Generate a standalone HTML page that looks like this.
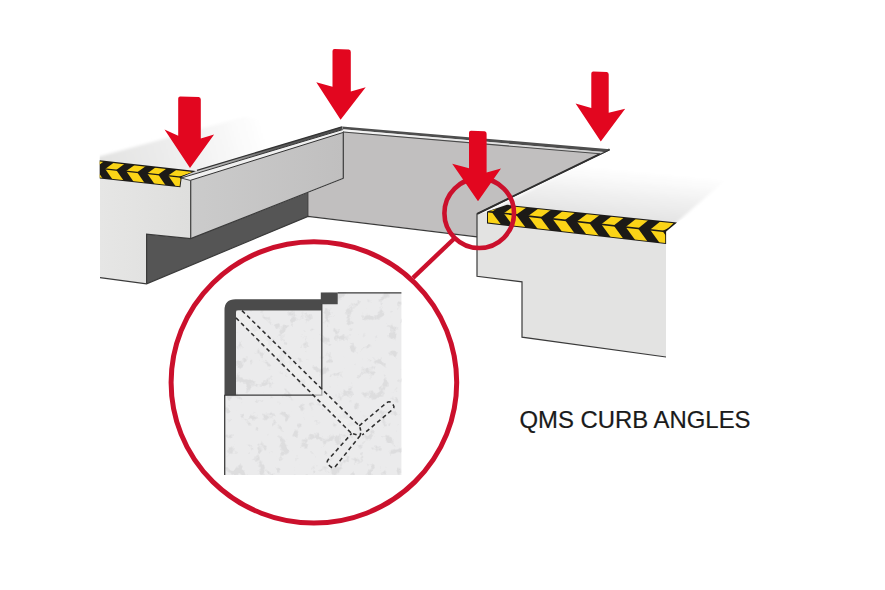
<!DOCTYPE html>
<html><head><meta charset="utf-8">
<style>
html,body{margin:0;padding:0;background:#fff;}
body{width:885px;height:590px;overflow:hidden;position:relative;font-family:"Liberation Sans",sans-serif;}
svg{position:absolute;left:0;top:0;display:block;}
.label{position:absolute;left:519.5px;top:406.5px;font-size:23.9px;line-height:26px;color:#1a1a1a;white-space:nowrap;-webkit-text-stroke:0.2px #1a1a1a;letter-spacing:0px;}
</style></head><body>
<svg width="885" height="590" viewBox="0 0 885 590">
<defs>
  <linearGradient id="gTopL" gradientUnits="userSpaceOnUse" x1="105" y1="165" x2="262" y2="118">
    <stop offset="0" stop-color="#e3e3e2"/><stop offset="0.35" stop-color="#ebebeb"/><stop offset="0.7" stop-color="#f6f6f6"/><stop offset="1" stop-color="#ffffff"/>
  </linearGradient>
  <linearGradient id="gTopR" gradientUnits="userSpaceOnUse" x1="580" y1="216" x2="585" y2="165">
    <stop offset="0" stop-color="#e2e2e2"/><stop offset="0.4" stop-color="#eeeeee"/><stop offset="0.8" stop-color="#fafafa"/><stop offset="1" stop-color="#ffffff"/>
  </linearGradient>
  <linearGradient id="gBandL" gradientUnits="userSpaceOnUse" x1="190" y1="0" x2="343" y2="0">
    <stop offset="0" stop-color="#d4d4d4"/><stop offset="0.25" stop-color="#a8a8a8"/><stop offset="0.55" stop-color="#5c5c5c"/><stop offset="1" stop-color="#4c4c4c"/>
  </linearGradient>
  <linearGradient id="gBandB" gradientUnits="userSpaceOnUse" x1="343" y1="0" x2="604" y2="0">
    <stop offset="0" stop-color="#f6f6f6"/><stop offset="0.5" stop-color="#e6e6e6"/><stop offset="1" stop-color="#cfcfcf"/>
  </linearGradient>
  <linearGradient id="gFrontL" gradientUnits="userSpaceOnUse" x1="100" y1="0" x2="191" y2="0">
    <stop offset="0" stop-color="#e6e6e5"/><stop offset="1" stop-color="#dededd"/>
  </linearGradient>
  <linearGradient id="gSide" gradientUnits="userSpaceOnUse" x1="190" y1="0" x2="343" y2="0">
    <stop offset="0" stop-color="#cbcbcb"/><stop offset="1" stop-color="#c0bfbf"/>
  </linearGradient>
  <clipPath id="clipHL"><polygon points="99.7,161.5 192.6,171.9 181,176.4 99.7,167.7"/><polygon points="99.7,169 180.7,177.8 179.6,186.3 99.7,177.5"/></clipPath>
  <clipPath id="clipHR"><polygon points="489.5,211 507.5,206 673.5,223.2 665.3,230.7"/><polygon points="488,212.4 665.2,232.2 665.2,243 488,222.6"/></clipPath>
  <clipPath id="clipTL"><polygon points="99.7,100 360,100 360,200 99.7,200"/></clipPath>
  <clipPath id="clipTR"><polygon points="477,214 609.5,149.5 800,100 800,150 677,222.6 666,232 487,212"/></clipPath>
  <filter id="blurT" x="-10%" y="-20%" width="120%" height="140%"><feGaussianBlur stdDeviation="1.6"/></filter>
  <filter id="blur1"><feGaussianBlur stdDeviation="0.5"/></filter>
  <filter id="mott" x="0" y="0" width="100%" height="100%" color-interpolation-filters="sRGB">
    <feTurbulence type="fractalNoise" baseFrequency="0.09" numOctaves="4" seed="5" result="n"/>
    <feColorMatrix in="n" type="matrix" values="0 0 0 0 0.865  0 0 0 0 0.865  0 0 0 0 0.87  8 0 0 0 -4.72"/>
    <feGaussianBlur stdDeviation="0.5"/>
  </filter>
  <clipPath id="clipConc"><polygon points="236,310.4 321.8,310.4 321.8,292.5 401.4,292.5 401.4,475 224.5,475 224.5,395.2 236,395.2"/></clipPath>
</defs>

<!-- TOP SURFACES -->
<g clip-path="url(#clipTL)"><polygon points="90,159 100,175 197,180 342,137 245,116.7" fill="url(#gTopL)" filter="url(#blurT)"/></g>
<g clip-path="url(#clipTR)"><polygon points="470,222 609.5,149.5 760,150 676.5,222.6 676,235 503.5,215" fill="url(#gTopR)" filter="url(#blurT)"/></g>

<!-- BACK WALL -->
<polygon points="343,128 609.5,149.8 477,214 477,236.6 308,216 308,193 343,179" fill="#c1bfbf"/>
<!-- LEFT SIDE WALL -->
<polygon points="190.7,180.3 343,132 343,178.3 190.7,238.6" fill="url(#gSide)"/>
<!-- DARK RECESS -->
<polygon points="146.6,234.2 190.7,238.6 308,192.6 308,216.4 146.6,283.8" fill="#555555"/>
<!-- LEFT BLOCK FRONT -->
<polygon points="100,166 190.7,179 190.7,238.6 146.6,234.2 146.6,283.8 100,277.6" fill="url(#gFrontL)"/>
<!-- RIGHT BLOCK FRONT -->
<polygon points="477,214 487.5,212 666,232 666,357 522,337.2 522,281.8 477,276.3" fill="#e3e3e2"/>

<!-- edges -->
<g fill="none" stroke="#3a3a3a" stroke-width="1.2" stroke-linejoin="miter">
  <polyline points="100,277.6 146.6,283.8 308,216.4 477,236.8"/>
  <polyline points="146.6,283.8 146.6,234.2 190.7,238.6 343.5,178.2"/>
  <line x1="190.7" y1="180.3" x2="190.7" y2="238.6"/>
  <line x1="343.3" y1="128" x2="343.3" y2="178.3"/>
  <line x1="308" y1="192.6" x2="308" y2="216.4" stroke-width="0.8"/>
  <polyline points="609.5,149.6 477,214 477,276.3 522,281.8 522,337.2 666,357"/>
  <line x1="609.5" y1="149.4" x2="477.2" y2="213.8" stroke-width="1.9" stroke="#2f2f2f"/>
</g>

<!-- curb strip left wall -->
<polygon points="197,170.3 341.8,126.8 342.6,129.6 181.2,178" fill="url(#gBandL)"/>
<polygon points="181.2,178 342.6,129.6 343,132.4 190.2,180.4" fill="#f0f0f0"/>
<g fill="none" stroke="#333" stroke-width="1">
  <line x1="197" y1="170.3" x2="342" y2="126.9" stroke-width="1.3"/>
  <line x1="181.2" y1="178" x2="342.6" y2="129.6"/>
  <line x1="190.2" y1="180.4" x2="343" y2="132.5" stroke-width="1"/>
  <line x1="181.2" y1="178" x2="190.2" y2="180.4" stroke-width="0.9"/>
</g>
<!-- curb strip back wall -->
<polygon points="342,126.6 610,149.2 604,152 343,129.3" fill="#4e4e4e"/>
<polygon points="343,129.3 604,152 600.5,153.5 343,131.6" fill="url(#gBandB)"/>
<line x1="343" y1="132" x2="600" y2="153.8" stroke="#4a4a4a" stroke-width="1.1"/>

<!-- HAZARD LEFT -->
<polygon points="99.7,160.2 196,171 181.8,177.1 180.4,187.3 99.7,178.5" fill="#1c1a17"/>
<g clip-path="url(#clipHL)" fill="#fbd417">
    <polygon points="84.2,166.6 93.7,159.5 104.7,160.8 95.2,167.8"/>
    <polygon points="84.2,166.6 95.2,167.8 102.9,178.8 91.9,177.6"/>
    <polygon points="105.2,168.9 114.7,161.9 125.7,163.1 116.2,170.1"/>
    <polygon points="105.2,168.9 116.2,170.1 123.9,181.1 112.9,179.9"/>
    <polygon points="126.2,171.1 135.7,164.2 146.7,165.5 137.2,172.3"/>
    <polygon points="126.2,171.1 137.2,172.3 144.9,183.4 133.9,182.2"/>
    <polygon points="147.2,173.4 156.7,166.6 167.7,167.8 158.2,174.6"/>
    <polygon points="147.2,173.4 158.2,174.6 165.9,185.7 154.9,184.5"/>
    <polygon points="168.2,175.6 177.7,168.9 195.7,171.0 179.2,176.8"/>
    <polygon points="168.2,175.6 179.2,176.8 186.9,188.0 175.9,186.8"/>
</g>
<!-- HAZARD RIGHT -->
<polygon points="487,211.4 507,204.8 677,222.4 666.1,231.5 666.1,244 487,223.5" fill="#1c1a17"/>
<g clip-path="url(#clipHR)" fill="#fbd417">
    <polygon points="479.3,210.5 490.3,203.1 502.7,204.4 491.7,211.9"/>
    <polygon points="479.3,210.5 491.7,211.9 501.5,225.2 489.1,223.7"/>
    <polygon points="503.7,213.3 514.7,205.6 527.1,206.9 516.1,214.7"/>
    <polygon points="503.7,213.3 516.1,214.7 525.9,228.0 513.5,226.5"/>
    <polygon points="528.1,216.0 539.1,208.1 551.5,209.4 540.5,217.4"/>
    <polygon points="528.1,216.0 540.5,217.4 550.3,230.7 537.9,229.3"/>
    <polygon points="552.5,218.8 563.5,210.6 575.9,211.9 564.9,220.1"/>
    <polygon points="552.5,218.8 564.9,220.1 574.7,233.5 562.3,232.1"/>
    <polygon points="576.9,221.5 587.9,213.2 600.3,214.5 589.3,222.9"/>
    <polygon points="576.9,221.5 589.3,222.9 599.1,236.3 586.7,234.9"/>
    <polygon points="601.3,224.2 612.3,215.7 624.7,217.0 613.7,225.6"/>
    <polygon points="601.3,224.2 613.7,225.6 623.5,239.1 611.1,237.7"/>
    <polygon points="625.7,227.0 636.7,218.2 649.1,219.5 638.1,228.4"/>
    <polygon points="625.7,227.0 638.1,228.4 647.9,241.9 635.5,240.5"/>
    <polygon points="650.1,229.7 661.1,220.8 679.1,222.6 662.5,231.1"/>
    <polygon points="650.1,229.7 662.5,231.1 672.3,244.7 659.9,243.3"/>
</g>

<!-- small circle + connector -->
<circle cx="479.2" cy="213.2" r="34.8" fill="none" stroke="#cb102c" stroke-width="4.6"/>
<line x1="453.8" y1="239" x2="413" y2="277.8" stroke="#cb102c" stroke-width="4.4"/>

<!-- big circle -->
<ellipse cx="313.9" cy="382.4" rx="142.8" ry="140.7" fill="#ffffff" stroke="#cb102c" stroke-width="5"/>

<!-- detail -->
<g>
  <polygon points="236,310.4 321.8,310.4 321.8,292.5 401.4,292.5 401.4,475 224.5,475 224.5,395.2 236,395.2" fill="#ebebec"/>
  <g clip-path="url(#clipConc)"><rect x="220" y="290" width="185" height="190" fill="#d6d6d6" filter="url(#mott)"/></g>
  <path d="M224.5,395.2 L224.5,310 Q224.5,299.2 235.5,299.2 L320.8,299.2 L320.8,292.5 L337.7,292.5 L337.7,304.3 L321.8,304.3 L321.8,310.4 L238,310.4 Q236,310.4 236,312.4 L236,395.2 Z" fill="#4b4b4b"/>
  <g fill="none" stroke="#3c3c3c" stroke-width="1.3">
    <polyline points="224.5,395.2 321.8,395.2 321.8,304"/>
    <line x1="224.7" y1="395" x2="224.7" y2="475"/>
    <line x1="337.7" y1="292.9" x2="401.4" y2="292.9" stroke-width="1.1"/>
  </g>
  <polygon points="242,310.6 359.2,425.8 351.6,433.5 236.2,318.2 236.2,310.6" fill="#f0f0f0" opacity="0.6"/>
  <g fill="none" stroke="#2e2e2e" stroke-width="1.55" stroke-dasharray="4.1 3.1">
    <line x1="242" y1="310.6" x2="359.2" y2="425.8"/>
    <line x1="236" y1="317.9" x2="351.6" y2="433.5"/>
    <path d="M359.2,425.8 L386.3,403 Q389.3,400.6 391.5,403 L393.4,405.2 Q395,407.4 392.4,409.6 L362.3,435"/>
    <path d="M351.6,433.5 L328.3,459.6 Q326,462.4 328.3,464.6 L331,467 Q333.6,468.8 335.8,466 L360,435.8" stroke-dashoffset="2"/>
    <path d="M359.2,425.8 Q361.8,431 360,435.8" stroke-dasharray="3.6 2.2" stroke-dashoffset="-1.5"/>
    <path d="M351.6,433.5 L357.5,435" stroke-dasharray="3.6 2.2" stroke-dashoffset="-1.5"/>
  </g>
</g>

<!-- ARROWS -->
<g fill="#e2061f">
  <path id="a1" d="M180.2,96.5 L198.6,97 Q200.8,97.2 200.8,99.5 L200.8,138.4 L214.1,134.6 L190,167.9 L164.5,129.6 L178.2,135.7 L178.2,98.5 Q178.2,96.5 180.2,96.5 Z"/>
  <path id="a2" d="M334.5,49 L348.8,49.5 Q350.8,49.7 350.8,52 L350.8,91.5 L365.7,87.2 L340.6,119.8 L316.3,82.2 L332.5,86.8 L332.5,51 Q332.5,49 334.5,49 Z"/>
  <path id="a3" d="M471,130.7 L484.6,131.2 Q486.6,131.4 486.6,133.7 L486.6,172.5 L501,168.6 L478,201.2 L452.2,163.8 L469,168.2 L469,132.7 Q469,130.7 471,130.7 Z"/>
  <path id="a4" d="M593.3,71.4 L606.7,71.9 Q608.7,72.1 608.7,74.4 L608.7,112.8 L625.2,108.8 L600.8,141.4 L575.6,103.4 L591.3,108 L591.3,73.4 Q591.3,71.4 593.3,71.4 Z"/>
</g>
</svg>
<div class="label">QMS CURB ANGLES</div>

</body></html>
